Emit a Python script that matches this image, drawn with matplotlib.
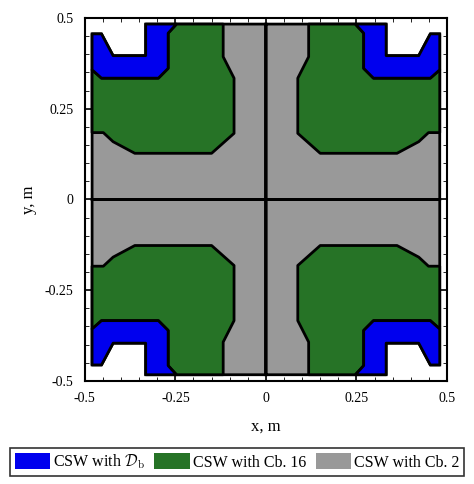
import numpy as np
import matplotlib.pyplot as plt
from matplotlib.patches import Polygon, Patch
from matplotlib.ticker import MultipleLocator

plt.rcParams['font.family'] = ['Liberation Serif', 'DejaVu Serif']
plt.rcParams['mathtext.fontset'] = 'cm'

# top-left quadrant shapes (mirrored to the others)
blue_x = [-0.480, -0.454, -0.422, -0.332, -0.332, -0.247, -0.270, -0.270, -0.297, -0.454, -0.480]
blue_y = [0.456, 0.456, 0.396, 0.396, 0.483, 0.483, 0.458, 0.361, 0.334, 0.334, 0.357]
green_x = [-0.480, -0.454, -0.297, -0.270, -0.270, -0.247, -0.118, -0.118, -0.088, -0.088,
           -0.150, -0.362, -0.422, -0.449, -0.480]
green_y = [0.357, 0.334, 0.334, 0.361, 0.458, 0.483, 0.483, 0.393, 0.334, 0.182,
           0.127, 0.127, 0.159, 0.184, 0.184]
# outer boundary of the top-left quarter (grey area extends to the centre lines)
outer_x = [0.0, -0.332, -0.332, -0.422, -0.454, -0.480, -0.480]
outer_y = [0.483, 0.483, 0.396, 0.396, 0.456, 0.456, 0.0]

colors = {'blue': '#0000ee', 'green': '#267326', 'grey': '#999999'}
labels = [r'CSW with $\mathcal{D}_\mathrm{b}$', 'CSW with Cb. 16', 'CSW with Cb. 2']

fig = plt.figure(figsize=(4.74, 4.84), dpi=100)
ax = fig.add_axes([0.179, 0.213, 0.764, 0.750])

signs = [(1, 1), (-1, 1), (-1, -1), (1, -1)]

# grey outline built from the four mirrored quarters
gx, gy = [], []
for sx, sy in signs:
    xs = np.array(outer_x) * -sx
    ys = np.array(outer_y) * sy
    if sx * sy < 0:
        xs, ys = xs[::-1], ys[::-1]
    gx += list(xs)
    gy += list(ys)
ax.add_patch(Polygon(np.column_stack([gx, gy]), closed=True, fc=colors['grey'], ec='black', lw=2))

for sx, sy in signs:
    for px, py, c in [(green_x, green_y, 'green'), (blue_x, blue_y, 'blue')]:
        pts = np.column_stack([np.array(px) * -sx, np.array(py) * sy])
        ax.add_patch(Polygon(pts, closed=True, fc=colors[c], ec='black', lw=2, joinstyle='round'))

ax.set_xlim(-0.5, 0.5)
ax.set_ylim(-0.5, 0.5)
ticks = [-0.5, -0.25, 0, 0.25, 0.5]
tlabels = ['-0.5', '-0.25', '0', '0.25', '0.5']
ax.set_xticks(ticks, tlabels)
ax.set_yticks(ticks, tlabels)
ax.xaxis.set_minor_locator(MultipleLocator(0.05))
ax.yaxis.set_minor_locator(MultipleLocator(0.05))
ax.tick_params(which='both', direction='in', top=True, right=True, labelsize=10)
ax.tick_params(which='major', length=6, width=1.2, pad=8)
ax.tick_params(which='minor', length=3)
for s in ax.spines.values():
    s.set_linewidth(1.5)
ax.grid(True, color='#dddddd', lw=0.6)
ax.set_axisbelow(True)
ax.set_xlabel('x, m', fontsize=12, labelpad=10)
ax.set_ylabel('y, m', fontsize=12, labelpad=6)

handles = [Patch(fc=colors[k], ec='none') for k in ['blue', 'green', 'grey']]
fig.legend(handles, labels, loc='lower center', bbox_to_anchor=(0.5, 0.0), ncol=3,
           fontsize=11.5, frameon=True, fancybox=False, edgecolor='black',
           handlelength=2.2, handleheight=1.2, handletextpad=0.2, columnspacing=0.6,
           borderpad=0.3).get_frame().set_linewidth(1.2)

fig.savefig('out.png', dpi=100)
